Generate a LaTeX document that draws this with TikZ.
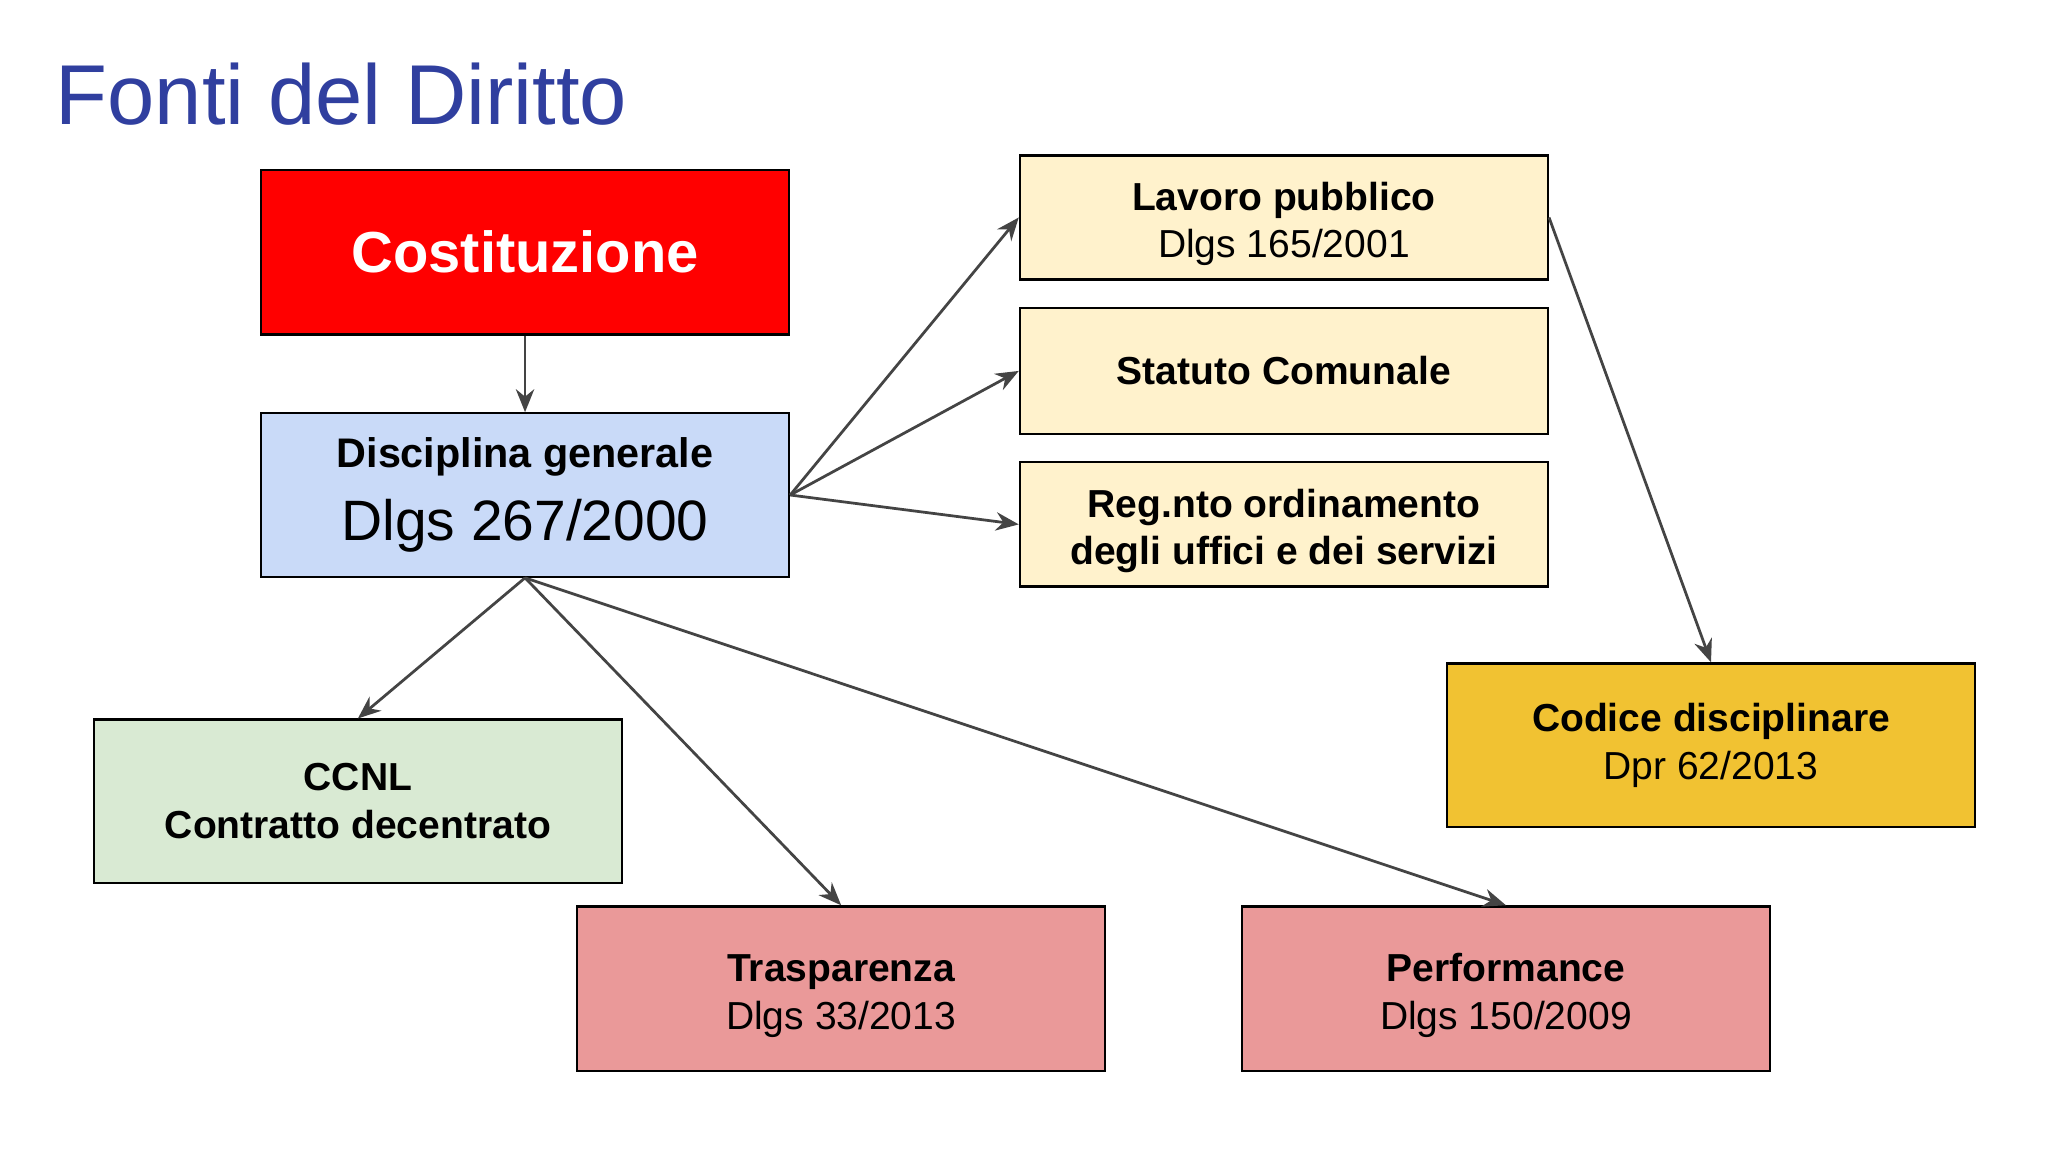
\documentclass[tikz,border=0pt]{standalone}
\usepackage{fontspec}
\setmainfont{Liberation Sans}
\usetikzlibrary{arrows.meta}
\definecolor{titlec}{HTML}{303F9F}
\definecolor{cblue}{HTML}{C9DAF8}
\definecolor{cyel}{HTML}{FFF2CC}
\definecolor{cgold}{HTML}{F1C232}
\definecolor{cgreen}{HTML}{D9EAD3}
\definecolor{cpink}{HTML}{EA9999}
\definecolor{cline}{HTML}{444444}
\tikzset{
  box/.style={draw=black,line width=0.5pt,minimum width=4.04cm,align=center,inner sep=0pt},
  conn/.style={draw=cline,line width=0.6pt,-{Stealth[length=5pt,width=4pt]}},
  bt/.style={font=\fontsize{8.5}{10.4}\selectfont\bfseries},
}
\begin{document}
\begin{tikzpicture}[x=0.01cm,y=-0.01cm]
\useasboundingbox[fill=white] (0,0) rectangle (1568,882);
\node[anchor=base west,text=titlec,font=\fontsize{18.5}{22}\selectfont,inner sep=0pt] (title) at (42,95) {Fonti del Diritto};
\node[box,fill=red,minimum height=1.26cm,font=\fontsize{12.6}{15}\selectfont\bfseries,text=white] (cost) at (402,193) {Costituzione};
\node[box,fill=cblue,minimum height=1.25cm] (disc) at (402,379) {{\fontsize{9}{11}\selectfont\bfseries Disciplina generale}\\[4pt]{\fontsize{12.4}{12}\selectfont Dlgs 267/2000}};
\node[box,fill=cyel,minimum height=0.95cm,bt] (lav) at (983,166.5) {\rule{0pt}{9pt}Lavoro pubblico\\{\mdseries Dlgs 165/2001}};
\node[box,fill=cyel,minimum height=0.96cm,bt] (stat) at (983,284) {Statuto Comunale};
\node[box,fill=cyel,minimum height=0.95cm,bt] (reg) at (983,401.5) {\rule{0pt}{9pt}Reg.nto ordinamento\\degli uffici e dei servizi};
\node[box,fill=cgold,minimum height=1.25cm,bt] (cod) at (1310,570.5) {Codice disciplinare\\{\mdseries Dpr 62/2013}\rule{0pt}{7pt}};
\node[box,fill=cgreen,minimum height=1.25cm,bt] (ccnl) at (274,613.5) {CCNL\\Contratto decentrato};
\node[box,fill=cpink,minimum height=1.26cm,bt] (tras) at (644,757) {\rule{0pt}{9pt}Trasparenza\\{\mdseries Dlgs 33/2013}};
\node[box,fill=cpink,minimum height=1.26cm,bt] (perf) at (1153,757) {\rule{0pt}{9pt}Performance\\{\mdseries Dlgs 150/2009}};
\draw[conn] (cost.south) -- (disc.north);
\draw[conn] (disc.east) -- (lav.west);
\draw[conn] (disc.east) -- (stat.west);
\draw[conn] (disc.east) -- (reg.west);
\draw[conn] (disc.south) -- (ccnl.north);
\draw[conn] (disc.south) -- (tras.north);
\draw[conn] (disc.south) -- (perf.north);
\draw[conn] (lav.east) -- (cod.north);
\end{tikzpicture}
\end{document}
